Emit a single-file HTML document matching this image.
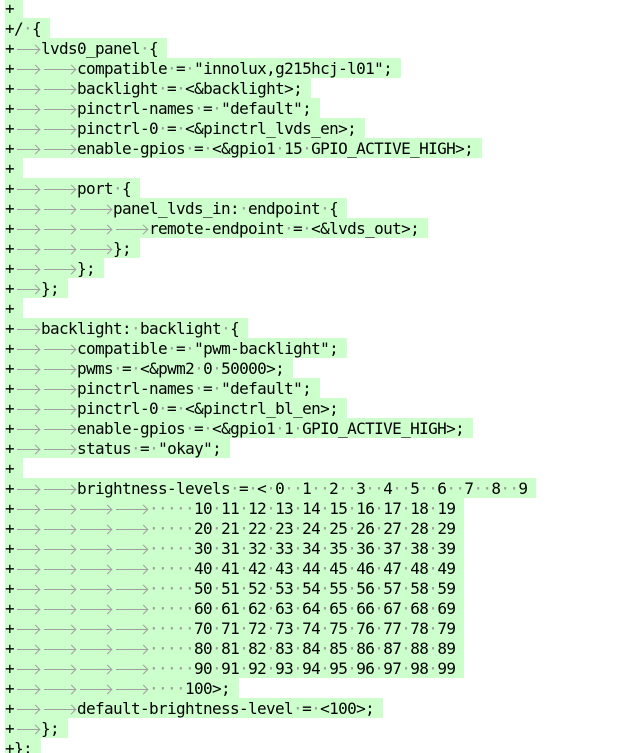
<!DOCTYPE html>
<html><head><meta charset="utf-8"><style>
html,body{margin:0;padding:0;background:#fff;width:642px;height:753px;overflow:hidden}
#c{margin-top:-2px;padding-left:5px;font:16px/22px "DejaVu Sans Mono",monospace;letter-spacing:-0.632px;color:#000}
#c div{width:fit-content;height:20px;padding-right:9px;background:#ccffcc;white-space:pre}
b{font-weight:400;color:#999}
i{display:inline-block;position:relative;width:36px;height:5px}
i.a{width:27px}
i:before{content:"";position:absolute;left:3px;right:1px;top:0;height:1px;background:#a0a0a0}
i:after{content:"";position:absolute;box-sizing:border-box;right:2px;top:-3px;width:7px;height:7px;border-top:1px solid #a0a0a0;border-right:1px solid #a0a0a0;transform:rotate(45deg)}
</style></head><body><div id="c">
<div>+</div>
<div>+/<b>·</b>{</div>
<div>+<i class="a"></i>lvds0_panel<b>·</b>{</div>
<div>+<i class="a"></i><i></i>compatible<b>·</b>=<b>·</b>"innolux,g215hcj-l01";</div>
<div>+<i class="a"></i><i></i>backlight<b>·</b>=<b>·</b>&lt;&amp;backlight&gt;;</div>
<div>+<i class="a"></i><i></i>pinctrl-names<b>·</b>=<b>·</b>"default";</div>
<div>+<i class="a"></i><i></i>pinctrl-0<b>·</b>=<b>·</b>&lt;&amp;pinctrl_lvds_en&gt;;</div>
<div>+<i class="a"></i><i></i>enable-gpios<b>·</b>=<b>·</b>&lt;&amp;gpio1<b>·</b>15<b>·</b>GPIO_ACTIVE_HIGH&gt;;</div>
<div>+</div>
<div>+<i class="a"></i><i></i>port<b>·</b>{</div>
<div>+<i class="a"></i><i></i><i></i>panel_lvds_in:<b>·</b>endpoint<b>·</b>{</div>
<div>+<i class="a"></i><i></i><i></i><i></i>remote-endpoint<b>·</b>=<b>·</b>&lt;&amp;lvds_out&gt;;</div>
<div>+<i class="a"></i><i></i><i></i>};</div>
<div>+<i class="a"></i><i></i>};</div>
<div>+<i class="a"></i>};</div>
<div>+</div>
<div>+<i class="a"></i>backlight:<b>·</b>backlight<b>·</b>{</div>
<div>+<i class="a"></i><i></i>compatible<b>·</b>=<b>·</b>"pwm-backlight";</div>
<div>+<i class="a"></i><i></i>pwms<b>·</b>=<b>·</b>&lt;&amp;pwm2<b>·</b>0<b>·</b>50000&gt;;</div>
<div>+<i class="a"></i><i></i>pinctrl-names<b>·</b>=<b>·</b>"default";</div>
<div>+<i class="a"></i><i></i>pinctrl-0<b>·</b>=<b>·</b>&lt;&amp;pinctrl_bl_en&gt;;</div>
<div>+<i class="a"></i><i></i>enable-gpios<b>·</b>=<b>·</b>&lt;&amp;gpio1<b>·</b>1<b>·</b>GPIO_ACTIVE_HIGH&gt;;</div>
<div>+<i class="a"></i><i></i>status<b>·</b>=<b>·</b>"okay";</div>
<div>+</div>
<div>+<i class="a"></i><i></i>brightness-levels<b>·</b>=<b>·</b>&lt;<b>·</b>0<b>··</b>1<b>··</b>2<b>··</b>3<b>··</b>4<b>··</b>5<b>··</b>6<b>··</b>7<b>··</b>8<b>··</b>9</div>
<div>+<i class="a"></i><i></i><i></i><i></i><b>·····</b>10<b>·</b>11<b>·</b>12<b>·</b>13<b>·</b>14<b>·</b>15<b>·</b>16<b>·</b>17<b>·</b>18<b>·</b>19</div>
<div>+<i class="a"></i><i></i><i></i><i></i><b>·····</b>20<b>·</b>21<b>·</b>22<b>·</b>23<b>·</b>24<b>·</b>25<b>·</b>26<b>·</b>27<b>·</b>28<b>·</b>29</div>
<div>+<i class="a"></i><i></i><i></i><i></i><b>·····</b>30<b>·</b>31<b>·</b>32<b>·</b>33<b>·</b>34<b>·</b>35<b>·</b>36<b>·</b>37<b>·</b>38<b>·</b>39</div>
<div>+<i class="a"></i><i></i><i></i><i></i><b>·····</b>40<b>·</b>41<b>·</b>42<b>·</b>43<b>·</b>44<b>·</b>45<b>·</b>46<b>·</b>47<b>·</b>48<b>·</b>49</div>
<div>+<i class="a"></i><i></i><i></i><i></i><b>·····</b>50<b>·</b>51<b>·</b>52<b>·</b>53<b>·</b>54<b>·</b>55<b>·</b>56<b>·</b>57<b>·</b>58<b>·</b>59</div>
<div>+<i class="a"></i><i></i><i></i><i></i><b>·····</b>60<b>·</b>61<b>·</b>62<b>·</b>63<b>·</b>64<b>·</b>65<b>·</b>66<b>·</b>67<b>·</b>68<b>·</b>69</div>
<div>+<i class="a"></i><i></i><i></i><i></i><b>·····</b>70<b>·</b>71<b>·</b>72<b>·</b>73<b>·</b>74<b>·</b>75<b>·</b>76<b>·</b>77<b>·</b>78<b>·</b>79</div>
<div>+<i class="a"></i><i></i><i></i><i></i><b>·····</b>80<b>·</b>81<b>·</b>82<b>·</b>83<b>·</b>84<b>·</b>85<b>·</b>86<b>·</b>87<b>·</b>88<b>·</b>89</div>
<div>+<i class="a"></i><i></i><i></i><i></i><b>·····</b>90<b>·</b>91<b>·</b>92<b>·</b>93<b>·</b>94<b>·</b>95<b>·</b>96<b>·</b>97<b>·</b>98<b>·</b>99</div>
<div>+<i class="a"></i><i></i><i></i><i></i><b>····</b>100&gt;;</div>
<div>+<i class="a"></i><i></i>default-brightness-level<b>·</b>=<b>·</b>&lt;100&gt;;</div>
<div>+<i class="a"></i>};</div>
<div>+};</div>
</div></body></html>
